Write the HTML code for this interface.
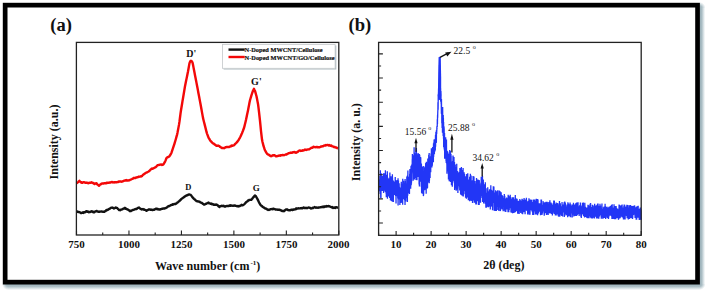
<!DOCTYPE html>
<html><head><meta charset="utf-8"><style>
html,body{margin:0;padding:0;background:#fff;}
body{width:709px;height:294px;overflow:hidden;position:relative;font-family:"Liberation Serif",serif;}
svg{position:absolute;left:0;top:0;}
</style></head><body>
<svg width="709" height="294" viewBox="0 0 709 294">
<defs>
</defs>
<rect x="0" y="0" width="709" height="294" fill="#fff"/>
<!-- shadow -->
<linearGradient id="gb" x1="0" y1="0" x2="0" y2="1"><stop offset="0" stop-color="#98afb7"/><stop offset="0.4" stop-color="#aabdc4"/><stop offset="0.75" stop-color="#dde6e9"/><stop offset="1" stop-color="#fff"/></linearGradient>
<linearGradient id="gr" x1="0" y1="0" x2="1" y2="0"><stop offset="0" stop-color="#98afb7"/><stop offset="0.4" stop-color="#aabdc4"/><stop offset="0.75" stop-color="#dde6e9"/><stop offset="1" stop-color="#fff"/></linearGradient>
<rect x="8" y="284" width="692" height="6.2" fill="url(#gb)"/>
<rect x="699.5" y="8" width="5.6" height="276.4" fill="url(#gr)"/>
<radialGradient id="gtr" cx="699.5" cy="8" r="6" gradientUnits="userSpaceOnUse"><stop offset="0" stop-color="#98afb7"/><stop offset="0.4" stop-color="#aabdc4"/><stop offset="0.75" stop-color="#dde6e9"/><stop offset="1" stop-color="#fff"/></radialGradient>
<radialGradient id="gbl" cx="8" cy="284" r="6" gradientUnits="userSpaceOnUse"><stop offset="0" stop-color="#98afb7"/><stop offset="0.4" stop-color="#aabdc4"/><stop offset="0.75" stop-color="#dde6e9"/><stop offset="1" stop-color="#fff"/></radialGradient>
<path d="M699.5,2 h6 v6 h-6 z" fill="url(#gtr)"/>
<path d="M2,284 h6 v6.2 h-6 z" fill="url(#gbl)"/>
<radialGradient id="gc" cx="699.5" cy="284" r="6" gradientUnits="userSpaceOnUse"><stop offset="0" stop-color="#98afb7"/><stop offset="0.4" stop-color="#aabdc4"/><stop offset="0.75" stop-color="#dde6e9"/><stop offset="1" stop-color="#fff"/></radialGradient>
<path d="M699.5,284 h6 v6.2 h-6 z" fill="url(#gc)"/>
<rect x="5.15" y="5.15" width="692.4" height="277" fill="none" stroke="#000" stroke-width="4.7"/>

<!-- panel a -->
<text x="50.3" y="31.1" font-family="Liberation Serif" font-weight="bold" font-size="18.6" fill="#111">(a)</text>
<path d="M76.50,183.35 77.00,182.98 77.50,182.42 78.00,182.37 78.50,181.67 79.00,181.17 79.50,180.87 80.00,181.57 80.50,181.89 81.00,182.48 81.50,182.32 82.00,182.90 82.50,182.80 83.00,182.26 83.50,182.24 84.00,182.19 84.50,182.40 85.00,182.56 85.50,182.87 86.00,182.50 86.50,182.75 87.00,182.73 87.50,183.10 88.00,183.00 88.50,183.19 89.00,182.84 89.50,182.86 90.00,182.61 90.50,182.89 91.00,182.60 91.50,182.30 92.00,182.52 92.50,182.94 93.00,182.97 93.50,183.18 94.00,183.68 94.50,184.03 95.00,183.53 95.50,183.47 96.00,183.33 96.50,183.17 97.00,184.04 97.50,184.53 98.00,184.81 98.50,185.30 99.00,185.69 99.50,185.31 100.00,184.61 100.50,184.42 101.00,184.14 101.50,183.58 102.00,183.53 102.50,183.36 103.00,183.35 103.50,183.47 104.00,183.13 104.50,183.15 105.00,183.30 105.50,183.23 106.00,183.40 106.50,182.67 107.00,183.11 107.50,182.77 108.00,182.78 108.50,182.81 109.00,182.75 109.50,182.65 110.00,182.39 110.50,182.55 111.00,182.11 111.50,182.03 112.00,182.21 112.50,181.98 113.00,182.48 113.50,182.29 114.00,182.51 114.50,182.15 115.00,182.12 115.50,182.25 116.00,182.39 116.50,182.19 117.00,182.20 117.50,181.98 118.00,182.10 118.50,181.56 119.00,181.69 119.50,181.44 120.00,181.43 120.50,181.51 121.00,181.46 121.50,181.72 122.00,181.67 122.50,181.33 123.00,181.20 123.50,181.17 124.00,180.74 124.50,180.67 125.00,180.53 125.50,180.25 126.00,180.58 126.50,180.10 127.00,180.56 127.50,180.44 128.00,180.61 128.50,180.43 129.00,180.31 129.50,180.26 130.00,179.89 130.50,179.72 131.00,179.53 131.50,179.27 132.00,179.03 132.50,178.70 133.00,178.57 133.50,178.05 134.00,178.11 134.50,177.84 135.00,178.08 135.50,177.99 136.00,177.43 136.50,177.55 137.00,177.37 137.50,177.10 138.00,177.16 138.50,176.89 139.00,176.57 139.50,176.68 140.00,176.60 140.50,176.54 141.00,176.27 141.50,176.42 142.00,176.02 142.50,175.33 143.00,174.92 143.50,174.52 144.00,174.01 144.50,173.95 145.00,173.47 145.50,173.02 146.00,172.73 146.50,172.49 147.00,172.51 147.50,172.01 148.00,171.80 148.50,171.54 149.00,171.17 149.50,170.89 150.00,170.12 150.50,169.75 151.00,169.20 151.50,168.91 152.00,168.55 152.50,168.84 153.00,168.46 153.50,168.39 154.00,168.02 154.50,167.74 155.00,167.56 155.50,167.28 156.00,166.81 156.50,166.37 157.00,165.79 157.50,165.23 158.00,165.15 158.50,165.07 159.00,164.83 159.50,164.82 160.00,164.79 160.50,164.54 161.00,164.40 161.50,164.60 162.00,164.93 162.50,164.67 163.00,164.73 163.50,164.13 164.00,163.51 164.50,162.44 165.00,161.74 165.50,160.63 166.00,159.30 166.50,158.06 167.00,157.56 167.50,157.27 168.00,157.15 168.50,156.80 169.00,156.67 169.50,156.15 170.00,155.18 170.50,154.60 171.00,153.71 171.50,152.72 172.00,151.18 172.50,149.57 173.00,148.14 173.50,146.69 174.00,145.17 174.50,143.53 175.00,141.95 175.50,140.27 176.00,138.45 176.50,136.67 177.00,134.87 177.50,132.65 178.00,130.01 178.50,127.36 179.00,124.65 179.50,121.43 180.00,117.49 180.50,113.57 181.00,110.20 181.50,107.18 182.00,104.18 182.50,101.15 183.00,98.18 183.50,95.20 184.00,92.23 184.50,89.27 185.00,86.31 185.50,83.79 186.00,81.32 186.50,78.87 187.00,76.45 187.50,73.96 188.00,71.57 188.50,68.71 189.00,65.86 189.50,63.11 190.00,61.88 190.50,60.99 191.00,60.80 191.50,61.00 192.00,61.61 192.50,62.50 193.00,64.68 193.50,67.36 194.00,69.95 194.50,72.55 195.00,75.18 195.50,77.69 196.00,80.29 196.50,82.89 197.00,85.45 197.50,88.04 198.00,90.72 198.50,93.42 199.00,96.06 199.50,98.74 200.00,101.39 200.50,104.08 201.00,106.78 201.50,109.54 202.00,112.36 202.50,115.11 203.00,117.90 203.50,120.00 204.00,121.98 204.50,123.91 205.00,125.91 205.50,127.83 206.00,129.86 206.50,131.93 207.00,133.57 207.50,134.90 208.00,136.20 208.50,137.62 209.00,138.45 209.50,139.17 210.00,140.09 210.50,140.87 211.00,141.46 211.50,141.83 212.00,142.52 212.50,142.90 213.00,143.33 213.50,143.54 214.00,143.84 214.50,144.34 215.00,144.60 215.50,145.12 216.00,145.45 216.50,145.88 217.00,145.84 217.50,145.75 218.00,145.54 218.50,145.83 219.00,145.91 219.50,146.30 220.00,146.77 220.50,146.96 221.00,147.39 221.50,147.71 222.00,148.17 222.50,148.07 223.00,148.06 223.50,148.03 224.00,148.18 224.50,148.15 225.00,147.69 225.50,147.19 226.00,147.27 226.50,146.97 227.00,147.04 227.50,147.05 228.00,147.11 228.50,147.02 229.00,147.05 229.50,146.59 230.00,146.69 230.50,146.27 231.00,146.29 231.50,145.49 232.00,145.75 232.50,145.69 233.00,145.43 233.50,145.44 234.00,145.34 234.50,144.75 235.00,144.10 235.50,143.60 236.00,143.18 236.50,142.73 237.00,142.18 237.50,141.51 238.00,140.83 238.50,140.20 239.00,139.23 239.50,138.33 240.00,137.51 240.50,136.55 241.00,135.46 241.50,134.37 242.00,133.23 242.50,131.93 243.00,130.68 243.50,129.24 244.00,127.99 244.50,126.08 245.00,124.00 245.50,121.97 246.00,119.86 246.50,117.44 247.00,115.11 247.50,112.79 248.00,110.39 248.50,107.78 249.00,105.20 249.50,102.54 250.00,100.27 250.50,98.51 251.00,96.82 251.50,95.07 252.00,93.67 252.50,92.19 253.00,90.76 253.50,90.02 254.00,88.83 254.50,90.07 255.00,90.87 255.50,92.63 256.00,94.47 256.50,96.28 257.00,98.74 257.50,101.38 258.00,103.93 258.50,107.58 259.00,111.88 259.50,116.28 260.00,120.79 260.50,125.89 261.00,131.01 261.50,135.27 262.00,139.55 262.50,141.99 263.00,143.92 263.50,145.95 264.00,147.46 264.50,148.95 265.00,150.23 265.50,151.23 266.00,152.08 266.50,152.89 267.00,153.74 267.50,154.09 268.00,154.35 268.50,154.71 269.00,154.92 269.50,155.38 270.00,155.67 270.50,155.92 271.00,156.21 271.50,156.16 272.00,155.85 272.50,155.30 273.00,155.46 273.50,155.12 274.00,155.18 274.50,155.21 275.00,155.58 275.50,155.85 276.00,156.38 276.50,156.41 277.00,156.17 277.50,156.11 278.00,155.82 278.50,155.76 279.00,155.57 279.50,155.55 280.00,155.78 280.50,155.30 281.00,155.32 281.50,155.21 282.00,155.34 282.50,154.99 283.00,155.05 283.50,155.15 284.00,155.23 284.50,154.97 285.00,154.73 285.50,154.46 286.00,154.49 286.50,154.44 287.00,154.06 287.50,153.83 288.00,153.66 288.50,153.24 289.00,153.13 289.50,153.01 290.00,152.96 290.50,152.78 291.00,152.47 291.50,152.74 292.00,152.73 292.50,152.32 293.00,152.33 293.50,152.21 294.00,152.19 294.50,151.94 295.00,152.55 295.50,152.33 296.00,152.72 296.50,152.64 297.00,152.19 297.50,151.86 298.00,151.66 298.50,151.00 299.00,150.70 299.50,150.67 300.00,150.46 300.50,150.94 301.00,150.78 301.50,150.64 302.00,150.72 302.50,150.30 303.00,150.33 303.50,150.50 304.00,150.28 304.50,149.72 305.00,149.47 305.50,149.75 306.00,149.99 306.50,149.68 307.00,149.62 307.50,149.65 308.00,149.33 308.50,149.40 309.00,149.39 309.50,149.05 310.00,148.74 310.50,148.30 311.00,148.17 311.50,147.74 312.00,147.84 312.50,147.86 313.00,147.19 313.50,146.80 314.00,146.90 314.50,147.06 315.00,147.20 315.50,147.24 316.00,146.99 316.50,147.02 317.00,147.36 317.50,147.00 318.00,147.38 318.50,147.19 319.00,147.37 319.50,147.22 320.00,147.09 320.50,146.95 321.00,146.52 321.50,146.59 322.00,146.39 322.50,146.29 323.00,146.29 323.50,145.89 324.00,145.67 324.50,145.52 325.00,145.44 325.50,145.46 326.00,145.06 326.50,145.23 327.00,145.04 327.50,145.07 328.00,144.98 328.50,145.39 329.00,145.59 329.50,145.13 330.00,145.66 330.50,145.74 331.00,145.49 331.50,145.68 332.00,146.23 332.50,146.37 333.00,146.40 333.50,146.81 334.00,147.08 334.50,147.18 335.00,146.99 335.50,147.48 336.00,147.39 336.50,147.58 337.00,147.83 337.50,148.25 338.00,148.39" fill="none" stroke="#f30808" stroke-width="2.4" stroke-linejoin="round"/>
<path d="M76.50,211.48 77.00,211.76 77.50,211.41 78.00,212.05 78.50,211.85 79.00,211.93 79.50,212.25 80.00,212.35 80.50,212.53 81.00,213.07 81.50,213.07 82.00,212.73 82.50,212.89 83.00,212.31 83.50,212.89 84.00,212.38 84.50,212.14 85.00,212.31 85.50,212.00 86.00,211.28 86.50,211.10 87.00,211.40 87.50,211.73 88.00,211.56 88.50,211.82 89.00,212.25 89.50,211.98 90.00,212.00 90.50,211.89 91.00,211.45 91.50,211.43 92.00,211.15 92.50,211.75 93.00,212.18 93.50,211.76 94.00,212.35 94.50,212.08 95.00,211.64 95.50,211.43 96.00,211.29 96.50,210.93 97.00,211.17 97.50,211.35 98.00,211.61 98.50,211.78 99.00,211.65 99.50,211.87 100.00,211.52 100.50,211.57 101.00,211.61 101.50,211.48 102.00,211.55 102.50,211.71 103.00,211.64 103.50,211.71 104.00,211.88 104.50,211.76 105.00,211.21 105.50,211.12 106.00,210.59 106.50,209.87 107.00,209.97 107.50,210.01 108.00,209.59 108.50,209.32 109.00,209.04 109.50,208.94 110.00,208.52 110.50,208.14 111.00,207.78 111.50,207.59 112.00,207.67 112.50,207.54 113.00,207.98 113.50,208.17 114.00,208.49 114.50,208.24 115.00,207.99 115.50,207.44 116.00,207.90 116.50,207.68 117.00,207.99 117.50,208.46 118.00,209.01 118.50,209.30 119.00,209.96 119.50,210.07 120.00,210.22 120.50,209.81 121.00,209.58 121.50,209.58 122.00,209.43 122.50,209.12 123.00,208.85 123.50,208.54 124.00,208.59 124.50,208.60 125.00,207.87 125.50,208.71 126.00,208.56 126.50,209.04 127.00,209.37 127.50,209.39 128.00,209.61 128.50,210.06 129.00,210.38 129.50,210.53 130.00,211.12 130.50,210.69 131.00,210.92 131.50,210.59 132.00,210.37 132.50,210.19 133.00,209.92 133.50,209.89 134.00,209.71 134.50,209.43 135.00,209.26 135.50,209.05 136.00,209.02 136.50,209.03 137.00,208.55 137.50,208.12 138.00,207.91 138.50,207.89 139.00,207.53 139.50,207.89 140.00,208.52 140.50,208.80 141.00,208.93 141.50,209.51 142.00,209.31 142.50,209.34 143.00,209.05 143.50,209.49 144.00,209.32 144.50,209.75 145.00,209.93 145.50,210.07 146.00,210.33 146.50,210.75 147.00,210.29 147.50,210.06 148.00,209.84 148.50,209.63 149.00,209.36 149.50,209.65 150.00,209.42 150.50,209.78 151.00,209.56 151.50,209.90 152.00,209.81 152.50,210.08 153.00,209.88 153.50,209.68 154.00,209.85 154.50,209.57 155.00,209.20 155.50,208.96 156.00,208.61 156.50,209.06 157.00,208.81 157.50,209.19 158.00,209.02 158.50,209.27 159.00,209.67 159.50,209.54 160.00,209.58 160.50,209.10 161.00,209.13 161.50,209.06 162.00,208.64 162.50,208.84 163.00,208.50 163.50,208.63 164.00,208.56 164.50,208.63 165.00,208.12 165.50,208.11 166.00,208.05 166.50,207.51 167.00,207.30 167.50,206.83 168.00,206.49 168.50,206.30 169.00,205.94 169.50,205.99 170.00,205.63 170.50,205.44 171.00,205.07 171.50,204.87 172.00,204.79 172.50,204.32 173.00,204.70 173.50,204.25 174.00,204.05 174.50,204.01 175.00,204.08 175.50,204.01 176.00,203.65 176.50,203.37 177.00,202.94 177.50,202.46 178.00,202.19 178.50,201.79 179.00,201.25 179.50,201.02 180.00,200.28 180.50,199.98 181.00,199.37 181.50,198.91 182.00,198.53 182.50,198.29 183.00,197.72 183.50,197.45 184.00,197.24 184.50,196.63 185.00,196.27 185.50,196.09 186.00,195.69 186.50,195.58 187.00,195.23 187.50,195.19 188.00,194.90 188.50,194.57 189.00,194.64 189.50,194.46 190.00,194.70 190.50,194.84 191.00,195.17 191.50,195.88 192.00,196.55 192.50,197.26 193.00,197.73 193.50,198.43 194.00,198.89 194.50,199.21 195.00,199.68 195.50,200.25 196.00,200.55 196.50,201.01 197.00,201.07 197.50,201.40 198.00,201.44 198.50,201.36 199.00,201.59 199.50,201.66 200.00,202.19 200.50,202.41 201.00,202.58 201.50,202.82 202.00,202.97 202.50,203.58 203.00,203.78 203.50,204.06 204.00,204.50 204.50,204.48 205.00,204.33 205.50,204.01 206.00,203.59 206.50,203.73 207.00,203.22 207.50,202.98 208.00,203.05 208.50,202.59 209.00,203.25 209.50,203.39 210.00,203.37 210.50,203.74 211.00,203.47 211.50,203.93 212.00,204.24 212.50,203.91 213.00,204.22 213.50,204.62 214.00,204.85 214.50,204.72 215.00,204.83 215.50,204.78 216.00,204.51 216.50,204.65 217.00,204.86 217.50,205.13 218.00,205.46 218.50,206.34 219.00,206.64 219.50,206.99 220.00,206.12 220.50,206.16 221.00,206.11 221.50,205.83 222.00,206.04 222.50,206.05 223.00,205.98 223.50,205.72 224.00,206.08 224.50,206.53 225.00,206.35 225.50,206.44 226.00,206.10 226.50,206.15 227.00,205.93 227.50,206.04 228.00,205.88 228.50,205.84 229.00,205.96 229.50,205.48 230.00,205.70 230.50,205.30 231.00,205.81 231.50,205.52 232.00,205.57 232.50,205.62 233.00,205.88 233.50,205.62 234.00,205.55 234.50,205.52 235.00,205.84 235.50,205.74 236.00,205.87 236.50,206.03 237.00,206.29 237.50,206.07 238.00,206.30 238.50,206.47 239.00,205.87 239.50,206.18 240.00,206.12 240.50,205.43 241.00,205.45 241.50,204.89 242.00,205.42 242.50,205.35 243.00,205.15 243.50,204.76 244.00,204.49 244.50,204.01 245.00,203.47 245.50,202.96 246.00,202.49 246.50,201.88 247.00,201.54 247.50,201.17 248.00,200.52 248.50,200.47 249.00,200.04 249.50,199.93 250.00,199.83 250.50,199.82 251.00,199.76 251.50,199.71 252.00,198.89 252.50,198.47 253.00,197.70 253.50,197.22 254.00,196.64 254.50,195.90 255.00,195.48 255.50,195.87 256.00,196.50 256.50,197.35 257.00,198.23 257.50,199.18 258.00,200.16 258.50,201.19 259.00,202.31 259.50,203.20 260.00,204.03 260.50,205.02 261.00,205.53 261.50,205.72 262.00,206.00 262.50,206.70 263.00,207.07 263.50,207.14 264.00,207.68 264.50,207.97 265.00,208.34 265.50,208.60 266.00,208.66 266.50,208.93 267.00,209.35 267.50,209.49 268.00,209.97 268.50,209.80 269.00,209.98 269.50,209.75 270.00,209.33 270.50,209.19 271.00,209.23 271.50,209.06 272.00,208.95 272.50,209.20 273.00,208.88 273.50,208.67 274.00,208.86 274.50,209.02 275.00,209.12 275.50,209.47 276.00,209.43 276.50,209.64 277.00,209.64 277.50,209.57 278.00,209.90 278.50,209.73 279.00,209.92 279.50,209.76 280.00,210.07 280.50,210.07 281.00,210.29 281.50,210.67 282.00,210.95 282.50,210.86 283.00,210.83 283.50,211.18 284.00,211.23 284.50,210.64 285.00,210.34 285.50,209.89 286.00,209.44 286.50,209.45 287.00,209.35 287.50,209.62 288.00,210.12 288.50,210.11 289.00,210.29 289.50,210.19 290.00,210.28 290.50,210.10 291.00,209.93 291.50,209.62 292.00,209.58 292.50,209.99 293.00,209.56 293.50,209.75 294.00,209.53 294.50,209.48 295.00,209.31 295.50,209.34 296.00,208.42 296.50,208.94 297.00,208.48 297.50,208.61 298.00,208.63 298.50,208.29 299.00,208.33 299.50,208.43 300.00,208.32 300.50,208.22 301.00,208.37 301.50,208.36 302.00,207.97 302.50,208.34 303.00,208.03 303.50,207.46 304.00,207.62 304.50,208.10 305.00,208.16 305.50,208.00 306.00,207.73 306.50,208.08 307.00,208.20 307.50,207.95 308.00,207.69 308.50,207.50 309.00,207.66 309.50,207.64 310.00,207.91 310.50,208.12 311.00,208.50 311.50,208.40 312.00,208.25 312.50,207.71 313.00,208.08 313.50,207.87 314.00,207.53 314.50,207.07 315.00,207.34 315.50,207.42 316.00,207.75 316.50,207.43 317.00,207.53 317.50,207.61 318.00,207.77 318.50,207.38 319.00,207.50 319.50,207.33 320.00,207.39 320.50,207.26 321.00,207.24 321.50,206.92 322.00,207.02 322.50,206.74 323.00,207.19 323.50,206.60 324.00,207.07 324.50,206.85 325.00,206.27 325.50,206.63 326.00,206.52 326.50,206.07 327.00,206.43 327.50,206.25 328.00,206.29 328.50,206.02 329.00,206.13 329.50,206.45 330.00,206.59 330.50,206.76 331.00,207.06 331.50,207.17 332.00,207.47 332.50,207.13 333.00,207.97 333.50,207.70 334.00,207.73 334.50,207.73 335.00,207.25 335.50,207.88 336.00,207.13 336.50,207.38 337.00,207.39 337.50,207.61 338.00,207.38" fill="none" stroke="#111" stroke-width="2.4" stroke-linejoin="round"/>
<rect x="76.4" y="42.4" width="262.4" height="192.6" fill="none" stroke="#222" stroke-width="1.3"/>
<path d="M76.50,235 V230.50 M102.73,235 V232.50 M128.96,235 V230.50 M155.19,235 V232.50 M181.42,235 V230.50 M207.65,235 V232.50 M233.88,235 V230.50 M260.11,235 V232.50 M286.34,235 V230.50 M312.57,235 V232.50 M338.80,235 V230.50" stroke="#222" stroke-width="1.1"/>
<path d="M223.6,69 H335.7 V45.6" fill="none" stroke="#a9b7be" stroke-width="1.2"/>
<rect x="222.5" y="44.5" width="112.6" height="23.8" fill="#fff" stroke="#c4c8ca" stroke-width="0.8"/>
<path d="M228.5,49.6 H244.7" stroke="#111" stroke-width="2.4"/>
<path d="M228.5,57 H244.7" stroke="#f30808" stroke-width="2.4"/>
<text x="244.6" y="52.1" font-family="Liberation Serif" font-weight="bold" font-size="6.9" fill="#111" stroke="#111" stroke-width="0.2" textLength="78" lengthAdjust="spacingAndGlyphs">N-Doped MWCNT/Cellulose</text>
<text x="244.6" y="59.9" font-family="Liberation Serif" font-weight="bold" font-size="6.9" fill="#111" stroke="#111" stroke-width="0.2" textLength="90" lengthAdjust="spacingAndGlyphs">N-Doped MWCNT/GO/Cellulose</text>
<text x="191.3" y="57" font-family="Liberation Serif" font-weight="bold" font-size="10" fill="#111" text-anchor="middle">D'</text>
<text x="256.4" y="84.5" font-family="Liberation Serif" font-weight="bold" font-size="10" fill="#111" text-anchor="middle">G'</text>
<text x="188.4" y="189.7" font-family="Liberation Serif" font-weight="bold" font-size="8.5" fill="#111" text-anchor="middle">D</text>
<text x="256.2" y="190.9" font-family="Liberation Serif" font-weight="bold" font-size="9" fill="#111" text-anchor="middle">G</text>
<g font-family="Liberation Serif" font-weight="bold" font-size="11" fill="#111" text-anchor="middle">
<text x="76.5" y="248">750</text><text x="129" y="248">1000</text><text x="181.5" y="248">1250</text>
<text x="234" y="248">1500</text><text x="286.5" y="248">1750</text><text x="338.5" y="248">2000</text>
</g>
<text x="207.6" y="269.9" font-family="Liberation Serif" font-weight="bold" font-size="12" fill="#111" text-anchor="middle">Wave number (cm<tspan dx="1" dy="-5" font-size="7">-1</tspan><tspan dy="5">)</tspan></text>
<text transform="translate(58.2,142) rotate(-90)" font-family="Liberation Serif" font-weight="bold" font-size="12" fill="#111" text-anchor="middle">Intensity (a.u.)</text>

<!-- panel b -->
<text x="348.5" y="31.1" font-family="Liberation Serif" font-weight="bold" font-size="18.6" fill="#111">(b)</text>
<path d="M378.60,187.4 378.67,190.7 378.74,187.3 378.81,175.9 378.89,191.3 378.96,188.1 379.03,181.2 379.10,189.0 379.17,187.5 379.24,187.0 379.31,185.1 379.39,188.8 379.46,179.8 379.53,183.8 379.60,181.6 379.67,189.1 379.74,185.2 379.81,182.9 379.89,179.4 379.96,183.1 380.03,184.9 380.10,183.0 380.17,193.9 380.24,191.9 380.31,170.2 380.39,171.7 380.46,183.6 380.53,181.9 380.60,186.3 380.67,186.4 380.74,198.1 380.81,177.1 380.89,182.2 380.96,198.1 381.03,189.3 381.10,189.4 381.17,181.2 381.24,173.3 381.31,186.0 381.39,185.5 381.46,176.2 381.53,180.0 381.60,184.3 381.67,178.2 381.74,184.1 381.81,185.4 381.89,185.0 381.96,181.2 382.03,188.9 382.10,190.9 382.17,187.0 382.24,179.0 382.31,189.8 382.39,181.2 382.46,190.8 382.53,177.2 382.60,191.0 382.67,184.5 382.74,176.0 382.81,182.5 382.89,185.0 382.96,186.6 383.03,177.8 383.10,177.0 383.17,186.0 383.24,181.4 383.31,186.3 383.39,189.9 383.46,173.2 383.53,186.4 383.60,193.1 383.67,182.5 383.74,179.0 383.81,189.8 383.89,186.3 383.96,190.8 384.03,182.2 384.10,174.3 384.17,183.8 384.24,181.5 384.31,189.9 384.39,185.9 384.46,173.2 384.53,176.3 384.60,190.7 384.67,189.2 384.74,180.1 384.81,184.5 384.89,187.6 384.96,187.7 385.03,190.6 385.10,186.3 385.17,183.9 385.24,182.8 385.31,192.0 385.39,170.2 385.46,183.8 385.53,185.0 385.60,174.9 385.67,187.1 385.74,180.4 385.81,190.9 385.89,184.1 385.96,189.6 386.03,193.4 386.10,187.7 386.17,179.0 386.24,174.7 386.31,197.3 386.39,184.4 386.46,180.5 386.53,186.3 386.60,184.0 386.67,191.2 386.74,185.6 386.81,185.5 386.89,180.5 386.96,188.7 387.03,178.4 387.10,190.1 387.17,196.1 387.24,175.1 387.31,171.2 387.39,189.9 387.46,198.8 387.53,178.9 387.60,177.2 387.67,189.9 387.74,180.1 387.81,182.4 387.89,183.5 387.96,189.6 388.03,183.2 388.10,188.0 388.17,184.9 388.24,180.3 388.31,184.0 388.39,179.6 388.46,186.3 388.53,178.5 388.60,178.8 388.67,196.4 388.74,186.0 388.81,186.0 388.89,190.0 388.96,183.6 389.03,184.9 389.10,189.5 389.17,188.5 389.24,178.7 389.31,192.4 389.39,182.6 389.46,179.5 389.53,180.6 389.60,184.1 389.67,198.0 389.74,178.8 389.81,188.0 389.89,172.5 389.96,187.0 390.03,193.2 390.10,185.4 390.17,182.8 390.24,188.8 390.31,192.0 390.39,191.8 390.46,200.4 390.53,188.8 390.60,183.3 390.67,186.6 390.74,187.0 390.81,188.3 390.89,187.4 390.96,188.9 391.03,176.3 391.10,193.4 391.17,183.9 391.24,179.8 391.31,192.3 391.39,197.0 391.46,191.4 391.53,189.2 391.60,181.7 391.67,201.2 391.74,194.2 391.81,180.4 391.89,183.0 391.96,188.9 392.03,177.8 392.10,189.6 392.17,185.4 392.24,196.9 392.31,195.2 392.39,174.3 392.46,189.0 392.53,177.7 392.60,196.4 392.67,190.0 392.74,192.6 392.81,181.7 392.89,201.5 392.96,202.0 393.03,181.8 393.10,191.7 393.17,184.6 393.24,189.1 393.31,180.6 393.39,202.1 393.46,182.8 393.53,187.4 393.60,192.9 393.67,185.1 393.74,187.9 393.81,185.8 393.89,188.8 393.96,181.7 394.03,186.8 394.10,188.4 394.17,187.6 394.24,190.3 394.31,188.0 394.39,195.1 394.46,187.9 394.53,189.2 394.60,185.6 394.67,186.6 394.74,181.6 394.81,193.8 394.89,182.6 394.96,185.3 395.03,192.9 395.10,193.2 395.17,187.8 395.24,176.9 395.31,193.5 395.39,192.5 395.46,181.1 395.53,196.0 395.60,186.1 395.67,183.2 395.74,191.6 395.81,189.8 395.89,192.4 395.96,180.2 396.03,203.5 396.10,187.1 396.17,180.8 396.24,195.5 396.31,188.9 396.39,193.6 396.46,189.1 396.53,191.1 396.60,193.2 396.67,186.5 396.74,196.2 396.81,188.5 396.89,185.8 396.96,192.3 397.03,194.9 397.10,190.3 397.17,186.1 397.24,196.2 397.31,180.1 397.39,185.1 397.46,192.4 397.53,182.9 397.60,192.4 397.67,191.9 397.74,198.4 397.81,186.2 397.89,188.2 397.96,194.7 398.03,178.3 398.10,205.4 398.17,187.8 398.24,187.6 398.31,198.4 398.39,192.3 398.46,180.5 398.53,196.8 398.60,198.4 398.67,189.6 398.74,190.7 398.81,195.9 398.89,186.5 398.96,195.7 399.03,194.1 399.10,188.2 399.17,183.3 399.24,191.2 399.31,186.8 399.39,199.5 399.46,193.8 399.53,198.1 399.60,193.7 399.67,194.6 399.74,187.6 399.81,197.4 399.89,204.9 399.96,190.8 400.03,188.9 400.10,191.9 400.17,189.7 400.24,188.2 400.31,193.9 400.39,191.0 400.46,202.8 400.53,193.0 400.60,195.2 400.67,199.5 400.74,191.0 400.81,202.9 400.89,188.7 400.96,187.6 401.03,190.6 401.10,192.3 401.17,183.5 401.24,192.9 401.31,181.7 401.39,202.8 401.46,192.6 401.53,188.8 401.60,186.9 401.67,190.6 401.74,191.7 401.81,186.0 401.89,186.9 401.96,192.0 402.03,189.7 402.10,199.9 402.17,201.3 402.24,193.5 402.31,196.7 402.39,184.0 402.46,197.9 402.53,193.2 402.60,196.8 402.67,204.7 402.74,178.7 402.81,195.3 402.89,185.7 402.96,197.7 403.03,184.2 403.10,189.9 403.17,194.7 403.24,197.6 403.31,193.7 403.39,187.4 403.46,189.1 403.53,199.2 403.60,192.8 403.67,180.7 403.74,198.7 403.81,195.6 403.89,198.8 403.96,190.0 404.03,198.3 404.10,184.6 404.17,196.3 404.24,188.6 404.31,196.9 404.39,199.2 404.46,186.6 404.53,191.4 404.60,192.0 404.67,200.2 404.74,196.7 404.81,182.6 404.89,194.7 404.96,196.7 405.03,205.0 405.10,178.9 405.17,187.1 405.24,200.7 405.31,181.0 405.39,182.0 405.46,194.5 405.53,198.1 405.60,185.7 405.67,194.5 405.74,191.3 405.81,201.5 405.89,190.2 405.96,197.5 406.03,183.4 406.10,188.6 406.17,189.2 406.24,198.3 406.31,194.1 406.39,184.1 406.46,194.7 406.53,195.3 406.60,188.6 406.67,187.5 406.74,187.8 406.81,176.6 406.89,190.5 406.96,190.8 407.03,182.4 407.10,194.3 407.17,178.2 407.24,184.1 407.31,184.5 407.39,202.1 407.46,175.6 407.53,191.7 407.60,194.3 407.67,189.8 407.74,195.7 407.81,179.0 407.89,170.4 407.96,191.9 408.03,176.8 408.10,183.2 408.17,176.5 408.24,193.3 408.31,191.6 408.39,179.4 408.46,191.5 408.53,185.3 408.60,183.1 408.67,184.4 408.74,182.2 408.81,188.3 408.89,185.7 408.96,180.4 409.03,190.6 409.10,177.7 409.17,184.3 409.24,184.9 409.31,192.7 409.39,177.0 409.46,194.0 409.53,181.5 409.60,178.2 409.67,174.1 409.74,183.5 409.81,178.9 409.89,169.5 409.96,169.0 410.03,173.0 410.10,171.7 410.17,185.1 410.24,186.9 410.31,182.6 410.39,178.2 410.46,171.6 410.53,175.0 410.60,181.1 410.67,188.7 410.74,180.6 410.81,170.8 410.89,172.9 410.96,168.4 411.03,165.7 411.10,170.0 411.17,172.6 411.24,185.2 411.31,170.7 411.39,180.7 411.46,183.5 411.53,169.7 411.60,181.5 411.67,174.0 411.74,164.6 411.81,169.6 411.89,167.3 411.96,164.9 412.03,164.9 412.10,167.6 412.17,169.8 412.24,159.2 412.31,166.1 412.39,153.9 412.46,168.1 412.53,171.0 412.60,167.2 412.67,168.1 412.74,170.5 412.81,160.3 412.89,163.7 412.96,169.7 413.03,173.6 413.10,168.6 413.17,180.7 413.24,164.5 413.31,173.3 413.39,175.4 413.46,164.0 413.53,158.3 413.60,155.3 413.67,166.1 413.74,173.8 413.81,166.9 413.89,166.0 413.96,161.5 414.03,169.0 414.10,147.3 414.17,166.2 414.24,164.5 414.31,153.0 414.39,179.6 414.46,152.7 414.53,155.2 414.60,154.2 414.67,173.1 414.74,156.8 414.81,169.6 414.89,168.9 414.96,166.3 415.03,153.4 415.10,159.2 415.17,177.9 415.24,153.6 415.31,157.4 415.39,162.9 415.46,170.9 415.53,166.4 415.60,170.4 415.67,155.6 415.74,172.1 415.81,169.1 415.89,151.3 415.96,177.1 416.03,180.1 416.10,158.1 416.17,164.9 416.24,176.0 416.31,152.3 416.39,148.1 416.46,153.8 416.53,159.9 416.60,159.8 416.67,169.7 416.74,166.9 416.81,154.3 416.89,169.4 416.96,180.3 417.03,174.7 417.10,173.0 417.17,164.9 417.24,173.0 417.31,156.8 417.39,171.1 417.46,164.1 417.53,174.3 417.60,168.8 417.67,155.8 417.74,166.0 417.81,175.1 417.89,155.5 417.96,160.3 418.03,158.7 418.10,152.9 418.17,173.7 418.24,177.0 418.31,173.0 418.39,168.6 418.46,166.4 418.53,169.1 418.60,161.2 418.67,175.2 418.74,176.7 418.81,176.1 418.89,164.0 418.96,169.5 419.03,167.7 419.10,184.5 419.17,171.2 419.24,154.0 419.31,173.6 419.39,186.4 419.46,176.6 419.53,178.5 419.60,171.6 419.67,154.9 419.74,156.5 419.81,161.6 419.89,171.4 419.96,175.4 420.03,178.9 420.10,170.4 420.17,181.7 420.24,171.5 420.31,168.2 420.39,181.6 420.46,166.9 420.53,157.1 420.60,166.0 420.67,175.9 420.74,157.6 420.81,172.4 420.89,172.7 420.96,163.7 421.03,163.4 421.10,172.1 421.17,171.5 421.24,186.8 421.31,179.5 421.39,163.4 421.46,169.6 421.53,182.7 421.60,192.8 421.67,180.4 421.74,179.9 421.81,192.9 421.89,177.4 421.96,175.2 422.03,166.3 422.10,173.8 422.17,193.8 422.24,166.7 422.31,178.6 422.39,167.1 422.46,179.9 422.53,186.2 422.60,177.1 422.67,185.2 422.74,185.3 422.81,183.2 422.89,193.7 422.96,186.2 423.03,177.5 423.10,174.6 423.17,173.5 423.24,184.3 423.31,178.0 423.39,196.1 423.46,195.8 423.53,179.3 423.60,178.4 423.67,194.6 423.74,166.0 423.81,177.5 423.89,188.7 423.96,173.9 424.03,177.4 424.10,178.4 424.17,186.5 424.24,182.3 424.31,184.5 424.39,186.1 424.46,181.6 424.53,190.2 424.60,175.5 424.67,169.9 424.74,167.2 424.81,168.5 424.89,177.1 424.96,189.7 425.03,182.8 425.10,176.5 425.17,172.6 425.24,176.8 425.31,177.6 425.39,176.2 425.46,169.1 425.53,176.6 425.60,188.4 425.67,163.4 425.74,178.1 425.81,163.1 425.89,181.2 425.96,173.6 426.03,162.8 426.10,180.1 426.17,193.7 426.24,179.9 426.31,188.2 426.39,178.2 426.46,161.8 426.53,182.4 426.60,175.0 426.67,166.5 426.74,184.3 426.81,180.2 426.89,173.5 426.96,184.5 427.03,170.5 427.10,182.4 427.17,169.7 427.24,181.3 427.31,168.1 427.39,188.5 427.46,178.6 427.53,187.7 427.60,169.6 427.67,172.0 427.74,182.0 427.81,158.6 427.89,166.4 427.96,182.6 428.03,177.8 428.10,181.5 428.17,171.1 428.24,177.6 428.31,167.2 428.39,161.9 428.46,159.1 428.53,167.6 428.60,167.3 428.67,166.4 428.74,154.7 428.81,155.2 428.89,166.2 428.96,172.2 429.03,165.2 429.10,162.6 429.17,153.0 429.24,183.2 429.31,160.0 429.39,180.8 429.46,179.6 429.53,169.5 429.60,162.8 429.67,167.8 429.74,157.8 429.81,168.1 429.89,165.8 429.96,169.5 430.03,172.3 430.10,177.9 430.17,161.8 430.24,172.3 430.31,158.4 430.39,157.4 430.46,159.2 430.53,156.3 430.60,170.6 430.67,169.9 430.74,172.2 430.81,162.5 430.89,164.4 430.96,158.0 431.03,153.6 431.10,165.0 431.17,163.4 431.24,153.3 431.31,165.2 431.39,148.3 431.46,159.3 431.53,155.8 431.60,156.3 431.67,152.2 431.74,166.4 431.81,163.4 431.89,167.5 431.96,159.9 432.03,149.6 432.10,155.8 432.17,150.0 432.24,160.9 432.31,165.7 432.39,159.5 432.46,153.1 432.53,154.4 432.60,157.8 432.67,147.1 432.74,156.9 432.81,156.9 432.89,152.1 432.96,152.7 433.03,155.9 433.10,149.9 433.17,149.7 433.24,158.4 433.31,154.9 433.39,162.3 433.46,147.6 433.53,143.2 433.60,156.8 433.67,156.4 433.74,147.6 433.81,143.8 433.89,150.2 433.96,142.0 434.03,148.0 434.10,139.9 434.17,147.7 434.24,139.2 434.31,146.9 434.39,154.2 434.46,145.9 434.53,150.0 434.60,143.6 434.67,142.2 434.74,139.2 434.81,149.7 434.89,144.7 434.96,151.4 435.03,139.3 435.10,142.9 435.17,143.8 435.24,148.9 435.31,150.2 435.39,139.7 435.46,137.4 435.53,134.7 435.60,146.7 435.67,140.6 435.74,138.0 435.81,140.0 435.89,131.7 435.96,132.6 436.03,142.9 436.10,140.4 436.17,138.6 436.24,133.2 436.31,138.8 436.39,142.8 436.46,130.0 436.53,134.1 436.60,131.5 436.67,133.9 436.74,131.8 436.81,130.3 436.89,126.6 436.96,129.3 437.03,126.0 437.10,127.2 437.17,125.8 437.24,127.1 437.31,120.0 437.39,119.4 437.46,123.9 437.53,116.4 437.60,114.5 437.67,117.8 437.74,113.5 437.81,111.1 437.89,110.0 437.96,102.2 438.03,107.8 438.10,109.8 438.17,105.1 438.24,94.7 438.31,100.6 438.39,94.0 438.46,95.0 438.53,94.6 438.60,87.8 438.67,95.4 438.74,87.5 438.81,86.8 438.89,82.6 438.96,81.2 439.03,76.7 439.10,64.9 439.17,65.0 439.24,57.3 439.31,57.3 439.39,59.0 439.46,59.3 439.53,60.1 439.60,57.3 439.67,58.2 439.74,57.7 439.81,61.6 439.89,66.8 439.96,65.5 440.03,76.6 440.10,74.9 440.17,77.2 440.24,84.1 440.31,88.4 440.39,91.2 440.46,88.3 440.53,98.0 440.60,93.4 440.67,101.1 440.74,101.8 440.81,90.9 440.89,93.3 440.96,94.3 441.03,101.6 441.10,101.7 441.17,103.9 441.24,99.1 441.31,107.0 441.39,113.8 441.46,98.9 441.53,106.6 441.60,110.4 441.67,109.2 441.74,109.8 441.81,123.2 441.89,121.1 441.96,119.2 442.03,109.5 442.10,128.0 442.17,118.6 442.24,113.1 442.31,115.5 442.39,115.2 442.46,132.7 442.53,121.7 442.60,121.5 442.67,106.9 442.74,128.0 442.81,115.8 442.89,116.0 442.96,129.7 443.03,119.5 443.10,133.0 443.17,136.0 443.24,114.9 443.31,128.2 443.39,118.1 443.46,130.4 443.53,138.7 443.60,122.1 443.67,147.2 443.74,131.8 443.81,125.9 443.89,134.8 443.96,142.7 444.03,126.8 444.10,138.3 444.17,128.4 444.24,149.3 444.31,141.9 444.39,138.2 444.46,150.5 444.53,132.9 444.60,140.5 444.67,158.8 444.74,143.7 444.81,156.0 444.89,147.4 444.96,140.8 445.03,144.9 445.10,148.1 445.17,144.7 445.24,141.9 445.31,142.8 445.39,137.7 445.46,151.1 445.53,153.9 445.60,157.3 445.67,137.3 445.74,158.8 445.81,152.8 445.89,141.9 445.96,154.8 446.03,161.0 446.10,159.0 446.17,160.9 446.24,163.0 446.31,162.9 446.39,155.7 446.46,139.4 446.53,150.4 446.60,159.8 446.67,153.4 446.74,163.1 446.81,164.3 446.89,158.5 446.96,173.7 447.03,150.7 447.10,166.6 447.17,155.4 447.24,153.2 447.31,164.7 447.39,155.2 447.46,167.6 447.53,151.3 447.60,161.4 447.67,154.5 447.74,159.8 447.81,159.0 447.89,153.1 447.96,168.1 448.03,152.6 448.10,155.0 448.17,170.6 448.24,171.4 448.31,169.0 448.39,166.5 448.46,179.6 448.53,154.1 448.60,158.1 448.67,156.2 448.74,171.9 448.81,167.0 448.89,173.9 448.96,173.0 449.03,163.3 449.10,158.7 449.17,157.4 449.24,181.3 449.31,173.7 449.39,170.8 449.46,163.4 449.53,164.7 449.60,163.7 449.67,164.0 449.74,149.9 449.81,166.5 449.89,164.0 449.96,169.6 450.03,169.1 450.10,174.4 450.17,167.6 450.24,174.2 450.31,151.1 450.39,159.2 450.46,182.1 450.53,158.5 450.60,166.2 450.67,174.2 450.74,161.6 450.81,174.6 450.89,157.5 450.96,153.7 451.03,158.6 451.10,156.1 451.17,169.3 451.24,167.0 451.31,172.3 451.39,161.5 451.46,185.2 451.53,169.3 451.60,169.8 451.67,174.0 451.74,168.5 451.81,165.5 451.89,171.4 451.96,178.2 452.03,176.3 452.10,178.6 452.17,166.6 452.24,165.1 452.31,186.7 452.39,169.6 452.46,175.4 452.53,177.6 452.60,183.2 452.67,161.1 452.74,168.2 452.81,168.7 452.89,169.8 452.96,155.6 453.03,171.7 453.10,155.8 453.17,175.1 453.24,177.1 453.31,177.7 453.39,163.4 453.46,180.7 453.53,166.3 453.60,163.5 453.67,165.6 453.74,166.8 453.81,175.0 453.89,180.4 453.96,157.1 454.03,169.6 454.10,181.3 454.17,175.8 454.24,178.4 454.31,162.4 454.39,182.2 454.46,162.1 454.53,176.3 454.60,185.8 454.67,190.0 454.74,179.2 454.81,182.3 454.89,170.5 454.96,171.6 455.03,184.9 455.10,175.6 455.17,174.7 455.24,164.5 455.31,177.0 455.39,181.0 455.46,169.6 455.53,172.0 455.60,188.6 455.67,177.6 455.74,174.0 455.81,167.3 455.89,171.5 455.96,174.5 456.03,187.3 456.10,171.8 456.17,190.8 456.24,169.4 456.31,174.0 456.39,183.5 456.46,175.1 456.53,170.5 456.60,176.1 456.67,180.7 456.74,163.8 456.81,175.4 456.89,176.5 456.96,174.3 457.03,183.2 457.10,173.2 457.17,174.8 457.24,178.0 457.31,183.5 457.39,176.2 457.46,189.7 457.53,171.0 457.60,188.0 457.67,171.6 457.74,177.0 457.81,181.1 457.89,193.0 457.96,185.3 458.03,175.4 458.10,188.5 458.17,177.0 458.24,172.7 458.31,182.2 458.39,179.6 458.46,186.2 458.53,174.8 458.60,182.0 458.67,184.0 458.74,181.4 458.81,179.1 458.89,174.1 458.96,186.3 459.03,180.6 459.10,183.3 459.17,177.0 459.24,179.8 459.31,172.0 459.39,180.5 459.46,185.7 459.53,180.7 459.60,186.5 459.67,182.5 459.74,190.4 459.81,178.8 459.89,168.1 459.96,183.6 460.03,179.2 460.10,173.2 460.17,185.4 460.24,182.5 460.31,183.9 460.39,178.2 460.46,182.2 460.53,182.7 460.60,193.9 460.67,175.9 460.74,180.9 460.81,183.7 460.89,168.4 460.96,169.4 461.03,195.1 461.10,168.3 461.17,185.5 461.24,175.2 461.31,175.8 461.39,167.0 461.46,175.0 461.53,187.3 461.60,171.5 461.67,186.0 461.74,184.0 461.81,195.6 461.89,178.4 461.96,191.0 462.03,188.4 462.10,180.0 462.17,170.1 462.24,193.0 462.31,172.4 462.39,178.8 462.46,188.6 462.53,190.3 462.60,176.4 462.67,182.2 462.74,180.7 462.81,191.0 462.89,196.2 462.96,169.7 463.03,189.3 463.10,167.9 463.17,183.0 463.24,175.1 463.31,196.4 463.39,184.2 463.46,177.9 463.53,179.6 463.60,179.1 463.67,184.6 463.74,182.2 463.81,188.0 463.89,194.2 463.96,188.4 464.03,174.9 464.10,172.2 464.17,178.3 464.24,191.1 464.31,181.4 464.39,179.1 464.46,184.8 464.53,174.0 464.60,176.0 464.67,187.6 464.74,182.0 464.81,181.0 464.89,186.4 464.96,180.2 465.03,179.5 465.10,181.2 465.17,188.7 465.24,184.9 465.31,176.2 465.39,182.5 465.46,189.2 465.53,197.8 465.60,176.8 465.67,187.2 465.74,183.1 465.81,190.7 465.89,188.2 465.96,195.4 466.03,188.8 466.10,181.4 466.17,181.5 466.24,188.1 466.31,188.1 466.39,198.7 466.46,197.2 466.53,177.3 466.60,188.0 466.67,176.3 466.74,174.1 466.81,191.0 466.89,189.7 466.96,178.6 467.03,197.4 467.10,179.1 467.17,177.9 467.24,190.7 467.31,187.7 467.39,185.1 467.46,185.8 467.53,187.9 467.60,185.4 467.67,185.2 467.74,173.2 467.81,177.2 467.89,190.9 467.96,181.7 468.03,190.5 468.10,195.4 468.17,184.4 468.24,188.9 468.31,200.3 468.39,191.9 468.46,200.0 468.53,197.9 468.60,192.5 468.67,186.5 468.74,181.4 468.81,179.6 468.89,190.8 468.96,190.7 469.03,186.3 469.10,193.5 469.17,183.4 469.24,195.4 469.31,188.0 469.39,187.5 469.46,187.8 469.53,187.2 469.60,201.2 469.67,176.7 469.74,189.2 469.81,196.7 469.89,193.1 469.96,186.0 470.03,200.3 470.10,180.8 470.17,179.2 470.24,192.3 470.31,178.3 470.39,173.8 470.46,194.6 470.53,193.8 470.60,193.6 470.67,185.2 470.74,189.9 470.81,182.0 470.89,200.8 470.96,194.3 471.03,194.0 471.10,175.4 471.17,194.5 471.24,199.3 471.31,197.4 471.39,194.5 471.46,189.1 471.53,186.8 471.60,193.4 471.67,191.9 471.74,191.0 471.81,187.2 471.89,201.0 471.96,181.4 472.03,189.4 472.10,185.6 472.17,196.7 472.24,199.5 472.31,198.2 472.39,194.9 472.46,180.2 472.53,202.9 472.60,193.4 472.67,189.2 472.74,190.1 472.81,187.7 472.89,193.0 472.96,192.3 473.03,187.7 473.10,175.9 473.17,190.0 473.24,193.6 473.31,194.0 473.39,189.4 473.46,193.6 473.53,197.5 473.60,187.4 473.67,200.6 473.74,177.4 473.81,182.1 473.89,184.6 473.96,176.5 474.03,184.1 474.10,199.4 474.17,199.4 474.24,191.7 474.31,202.7 474.39,192.7 474.46,187.8 474.53,192.8 474.60,190.3 474.67,196.3 474.74,181.2 474.81,198.1 474.89,188.3 474.96,197.2 475.03,181.1 475.10,188.7 475.17,192.1 475.24,197.6 475.31,183.4 475.39,202.8 475.46,194.9 475.53,188.1 475.60,199.8 475.67,192.4 475.74,199.5 475.81,204.5 475.89,196.9 475.96,188.2 476.03,188.9 476.10,195.7 476.17,193.7 476.24,186.2 476.31,187.4 476.39,196.3 476.46,204.6 476.53,177.9 476.60,196.8 476.67,190.5 476.74,197.2 476.81,197.8 476.89,192.3 476.96,185.2 477.03,182.7 477.10,179.6 477.17,200.2 477.24,190.7 477.31,188.5 477.39,190.3 477.46,183.2 477.53,194.2 477.60,200.9 477.67,199.8 477.74,181.8 477.81,201.3 477.89,187.2 477.96,179.6 478.03,184.1 478.10,185.9 478.17,192.3 478.24,185.5 478.31,182.4 478.39,190.6 478.46,205.0 478.53,187.8 478.60,195.5 478.67,193.0 478.74,205.0 478.81,180.0 478.89,199.7 478.96,184.1 479.03,188.6 479.10,191.9 479.17,205.1 479.24,187.6 479.31,180.2 479.39,201.2 479.46,187.1 479.53,191.1 479.60,192.5 479.67,193.4 479.74,191.6 479.81,194.5 479.89,195.3 479.96,198.4 480.03,189.9 480.10,187.7 480.17,185.5 480.24,196.2 480.31,191.9 480.39,195.7 480.46,195.4 480.53,202.8 480.60,193.0 480.67,196.4 480.74,183.5 480.81,184.2 480.89,189.0 480.96,183.0 481.03,195.3 481.10,182.0 481.17,191.0 481.24,176.7 481.31,183.1 481.39,187.9 481.46,188.3 481.53,178.2 481.60,190.4 481.67,195.8 481.74,193.6 481.81,185.0 481.89,185.3 481.96,181.3 482.03,192.9 482.10,198.0 482.17,185.2 482.24,177.7 482.31,190.1 482.39,193.6 482.46,175.7 482.53,190.4 482.60,202.0 482.67,195.2 482.74,193.7 482.81,193.0 482.89,197.4 482.96,184.8 483.03,185.6 483.10,193.9 483.17,187.1 483.24,193.3 483.31,179.6 483.39,197.0 483.46,197.8 483.53,192.8 483.60,193.8 483.67,203.4 483.74,186.3 483.81,187.6 483.89,186.7 483.96,191.2 484.03,187.6 484.10,194.3 484.17,190.0 484.24,184.9 484.31,184.3 484.39,202.0 484.46,193.9 484.53,192.9 484.60,194.6 484.67,194.0 484.74,199.4 484.81,198.2 484.89,190.9 484.96,189.5 485.03,187.9 485.10,186.9 485.17,203.8 485.24,189.1 485.31,182.2 485.39,189.7 485.46,190.1 485.53,197.2 485.60,189.6 485.67,198.6 485.74,197.8 485.81,203.4 485.89,207.4 485.96,207.5 486.03,204.1 486.10,188.2 486.17,193.1 486.24,197.2 486.31,207.7 486.39,200.1 486.46,203.4 486.53,194.8 486.60,199.7 486.67,200.5 486.74,193.2 486.81,201.0 486.89,202.9 486.96,195.2 487.03,202.7 487.10,206.7 487.17,196.8 487.24,196.4 487.31,194.5 487.39,192.7 487.46,197.6 487.53,194.1 487.60,194.7 487.67,191.9 487.74,187.2 487.81,191.0 487.89,199.0 487.96,189.6 488.03,193.0 488.10,207.3 488.17,204.1 488.24,192.8 488.31,200.9 488.39,193.1 488.46,207.3 488.53,193.6 488.60,197.7 488.67,205.9 488.74,192.1 488.81,205.4 488.89,192.3 488.96,198.8 489.03,195.6 489.10,196.9 489.17,198.4 489.24,197.0 489.31,191.2 489.39,202.9 489.46,202.0 489.53,205.6 489.60,206.2 489.67,189.3 489.74,205.6 489.81,205.7 489.89,194.4 489.96,204.2 490.03,206.9 490.10,194.5 490.17,189.3 490.24,195.6 490.31,209.6 490.39,199.4 490.46,190.5 490.53,196.4 490.60,191.9 490.67,195.6 490.74,198.6 490.81,185.2 490.89,200.3 490.96,206.8 491.03,197.0 491.10,195.8 491.17,204.9 491.24,190.5 491.31,190.6 491.39,189.8 491.46,197.4 491.53,200.8 491.60,197.8 491.67,201.8 491.74,203.5 491.81,201.5 491.89,193.6 491.96,196.9 492.03,206.2 492.10,192.2 492.17,197.1 492.24,196.1 492.31,197.6 492.39,192.1 492.46,190.5 492.53,210.3 492.60,204.5 492.67,194.5 492.74,198.5 492.81,203.0 492.89,196.8 492.96,202.7 493.03,195.2 493.10,196.8 493.17,198.5 493.24,196.2 493.31,186.3 493.39,199.2 493.46,200.7 493.53,202.0 493.60,193.1 493.67,201.3 493.74,200.5 493.81,188.5 493.89,186.6 493.96,202.2 494.03,193.6 494.10,205.4 494.17,210.8 494.24,195.9 494.31,195.3 494.39,199.4 494.46,203.5 494.53,192.7 494.60,207.0 494.67,205.5 494.74,203.6 494.81,196.4 494.89,205.1 494.96,204.8 495.03,192.5 495.10,211.1 495.17,198.0 495.24,202.0 495.31,196.7 495.39,202.1 495.46,206.7 495.53,195.1 495.60,190.2 495.67,197.3 495.74,192.3 495.81,195.6 495.89,199.3 495.96,199.7 496.03,207.5 496.10,194.2 496.17,202.1 496.24,197.2 496.31,208.0 496.39,211.1 496.46,201.9 496.53,209.8 496.60,197.3 496.67,191.2 496.74,193.1 496.81,191.4 496.89,195.0 496.96,199.0 497.03,206.9 497.10,204.4 497.17,203.1 497.24,198.1 497.31,196.5 497.39,200.7 497.46,201.3 497.53,202.0 497.60,202.7 497.67,200.0 497.74,190.2 497.81,194.6 497.89,196.3 497.96,209.9 498.03,198.5 498.10,204.4 498.17,208.7 498.24,202.6 498.31,198.8 498.39,199.4 498.46,195.5 498.53,202.6 498.60,206.9 498.67,204.0 498.74,205.1 498.81,204.8 498.89,211.0 498.96,197.8 499.03,202.0 499.10,204.8 499.17,207.6 499.24,190.4 499.31,198.6 499.39,200.2 499.46,196.0 499.53,205.6 499.60,202.5 499.67,199.4 499.74,193.2 499.81,194.8 499.89,196.5 499.96,203.8 500.03,195.4 500.10,191.2 500.17,194.3 500.24,198.6 500.31,209.9 500.39,211.1 500.46,199.2 500.53,206.3 500.60,208.6 500.67,208.0 500.74,201.1 500.81,195.2 500.89,199.2 500.96,192.4 501.03,202.9 501.10,205.6 501.17,192.3 501.24,201.5 501.31,203.2 501.39,208.0 501.46,208.6 501.53,205.8 501.60,198.4 501.67,200.0 501.74,207.8 501.81,198.9 501.89,201.7 501.96,209.6 502.03,202.5 502.10,195.1 502.17,200.5 502.24,205.1 502.31,201.0 502.39,207.7 502.46,208.3 502.53,198.8 502.60,199.5 502.67,201.5 502.74,196.1 502.81,203.9 502.89,201.2 502.96,206.0 503.03,199.2 503.10,197.8 503.17,211.2 503.24,197.8 503.31,199.3 503.39,198.6 503.46,200.7 503.53,197.7 503.60,202.0 503.67,198.8 503.74,200.2 503.81,204.0 503.89,205.7 503.96,204.6 504.03,198.7 504.10,204.3 504.17,201.7 504.24,201.8 504.31,193.9 504.39,205.7 504.46,201.7 504.53,210.7 504.60,205.5 504.67,197.0 504.74,195.8 504.81,208.1 504.89,198.2 504.96,205.8 505.03,201.0 505.10,211.8 505.17,202.9 505.24,209.9 505.31,209.1 505.39,200.3 505.46,201.0 505.53,209.8 505.60,202.7 505.67,198.5 505.74,208.5 505.81,211.9 505.89,202.6 505.96,209.6 506.03,202.0 506.10,209.4 506.17,201.7 506.24,209.4 506.31,205.6 506.39,202.1 506.46,204.1 506.53,200.4 506.60,197.6 506.67,197.9 506.74,202.8 506.81,198.0 506.89,205.3 506.96,205.7 507.03,205.5 507.10,200.8 507.17,203.5 507.24,203.1 507.31,209.6 507.39,199.4 507.46,201.5 507.53,202.2 507.60,202.7 507.67,199.8 507.74,200.4 507.81,208.3 507.89,200.3 507.96,207.8 508.03,212.2 508.10,209.6 508.17,194.8 508.24,207.2 508.31,205.8 508.39,206.1 508.46,195.7 508.53,207.2 508.60,198.3 508.67,209.8 508.74,208.7 508.81,212.3 508.89,201.8 508.96,196.3 509.03,208.6 509.10,207.8 509.17,201.8 509.24,210.1 509.31,207.0 509.39,197.5 509.46,202.0 509.53,201.6 509.60,203.2 509.67,204.6 509.74,200.4 509.81,202.8 509.89,206.6 509.96,203.4 510.03,202.5 510.10,202.4 510.17,203.3 510.24,194.7 510.31,204.6 510.39,199.0 510.46,204.4 510.53,196.9 510.60,208.3 510.67,205.0 510.74,197.5 510.81,205.1 510.89,200.4 510.96,212.5 511.03,206.3 511.10,200.2 511.17,205.1 511.24,203.9 511.31,209.7 511.39,205.8 511.46,206.5 511.53,198.8 511.60,207.9 511.67,212.8 511.74,207.2 511.81,204.0 511.89,205.0 511.96,199.7 512.03,205.1 512.10,199.1 512.17,204.5 512.24,202.4 512.31,200.4 512.39,207.0 512.46,197.3 512.53,204.1 512.60,198.1 512.67,212.9 512.74,212.9 512.81,208.3 512.89,213.0 512.96,207.2 513.03,207.0 513.10,202.5 513.17,200.3 513.24,205.1 513.31,202.0 513.39,202.5 513.46,207.9 513.53,203.9 513.60,197.3 513.67,203.5 513.74,201.0 513.81,203.2 513.89,199.5 513.96,210.2 514.03,213.1 514.10,199.5 514.17,207.6 514.24,207.4 514.31,199.7 514.39,205.1 514.46,211.2 514.53,208.6 514.60,212.2 514.67,199.3 514.74,201.3 514.81,206.1 514.89,206.4 514.96,204.9 515.03,203.0 515.10,202.9 515.17,202.0 515.24,206.9 515.31,194.9 515.39,212.2 515.46,202.4 515.53,198.2 515.60,207.4 515.67,198.4 515.74,206.7 515.81,203.0 515.89,207.6 515.96,208.5 516.03,210.9 516.10,202.6 516.17,203.6 516.24,204.9 516.31,198.5 516.39,207.7 516.46,205.6 516.53,198.8 516.60,210.5 516.67,211.3 516.74,199.0 516.81,207.7 516.89,210.8 516.96,208.9 517.03,200.6 517.10,198.7 517.17,204.6 517.24,202.8 517.31,205.1 517.39,204.7 517.46,207.5 517.53,202.6 517.60,204.4 517.67,213.7 517.74,204.6 517.81,208.6 517.89,206.5 517.96,206.2 518.03,201.1 518.10,207.6 518.17,205.0 518.24,209.0 518.31,213.8 518.39,206.1 518.46,208.8 518.53,200.7 518.60,205.9 518.67,212.4 518.74,205.1 518.81,202.5 518.89,206.3 518.96,204.6 519.03,204.3 519.10,203.7 519.17,213.9 519.24,201.5 519.31,203.6 519.39,202.9 519.46,211.1 519.53,204.2 519.60,211.4 519.67,206.3 519.74,205.4 519.81,199.0 519.89,211.0 519.96,208.0 520.03,207.4 520.10,205.1 520.17,203.7 520.24,199.9 520.31,209.9 520.39,206.8 520.46,204.0 520.53,202.8 520.60,206.2 520.67,205.3 520.74,213.0 520.81,209.2 520.89,203.0 520.96,200.8 521.03,204.7 521.10,201.7 521.17,206.1 521.24,207.6 521.31,208.6 521.39,207.6 521.46,204.9 521.53,208.5 521.60,201.8 521.67,205.5 521.74,209.4 521.81,207.1 521.89,200.2 521.96,200.7 522.03,198.7 522.10,213.9 522.17,199.0 522.24,205.3 522.31,214.1 522.39,210.7 522.46,211.8 522.53,203.7 522.60,209.2 522.67,214.2 522.74,205.8 522.81,207.8 522.89,204.6 522.96,205.9 523.03,207.7 523.10,212.2 523.17,202.1 523.24,199.7 523.31,206.2 523.39,207.0 523.46,212.3 523.53,209.2 523.60,203.3 523.67,208.6 523.74,211.0 523.81,207.4 523.89,204.6 523.96,209.1 524.03,204.6 524.10,197.9 524.17,212.0 524.24,200.5 524.31,204.7 524.39,204.8 524.46,204.7 524.53,204.9 524.60,199.9 524.67,208.5 524.74,206.3 524.81,206.4 524.89,210.9 524.96,211.0 525.03,212.1 525.10,214.3 525.17,208.2 525.24,199.5 525.31,207.2 525.39,206.3 525.46,206.6 525.53,203.7 525.60,202.4 525.67,209.8 525.74,210.5 525.81,201.4 525.89,208.7 525.96,205.6 526.03,204.7 526.10,209.3 526.17,206.1 526.24,204.0 526.31,206.6 526.39,197.7 526.46,203.8 526.53,204.5 526.60,200.3 526.67,207.2 526.74,207.6 526.81,203.8 526.89,205.7 526.96,209.3 527.03,211.0 527.10,203.1 527.17,207.9 527.24,210.9 527.31,206.3 527.39,203.1 527.46,203.1 527.53,205.0 527.60,202.0 527.67,214.6 527.74,204.0 527.81,208.1 527.89,207.2 527.96,209.2 528.03,204.8 528.10,200.9 528.17,213.5 528.24,206.1 528.31,207.0 528.39,207.4 528.46,211.9 528.53,209.8 528.60,211.6 528.67,210.1 528.74,207.2 528.81,207.6 528.89,203.4 528.96,198.3 529.03,205.6 529.10,202.0 529.17,214.7 529.24,213.3 529.31,211.6 529.39,204.3 529.46,214.7 529.53,199.4 529.60,201.5 529.67,203.3 529.74,202.6 529.81,207.2 529.89,207.5 529.96,214.8 530.03,210.9 530.10,211.9 530.17,208.5 530.24,206.1 530.31,203.8 530.39,200.3 530.46,203.1 530.53,205.1 530.60,210.0 530.67,199.6 530.74,201.0 530.81,207.7 530.89,202.4 530.96,208.2 531.03,205.1 531.10,203.7 531.17,201.2 531.24,206.4 531.31,203.8 531.39,204.3 531.46,204.2 531.53,207.7 531.60,207.5 531.67,199.7 531.74,206.2 531.81,208.6 531.89,211.3 531.96,210.2 532.03,207.8 532.10,202.1 532.17,203.7 532.24,210.8 532.31,204.0 532.39,211.3 532.46,212.3 532.53,202.5 532.60,208.8 532.67,206.5 532.74,215.0 532.81,210.5 532.89,204.9 532.96,208.7 533.03,203.2 533.10,206.4 533.17,207.9 533.24,207.7 533.31,208.4 533.39,203.3 533.46,199.4 533.53,205.6 533.60,203.4 533.67,204.2 533.74,215.0 533.81,212.0 533.89,206.4 533.96,201.2 534.03,201.8 534.10,208.7 534.17,211.6 534.24,206.0 534.31,207.8 534.39,208.3 534.46,211.6 534.53,199.5 534.60,207.9 534.67,208.9 534.74,211.2 534.81,208.9 534.89,202.7 534.96,204.9 535.03,201.0 535.10,208.1 535.17,208.1 535.24,209.4 535.31,203.3 535.39,202.6 535.46,213.6 535.53,208.1 535.60,214.5 535.67,209.2 535.74,201.4 535.81,210.7 535.89,212.5 535.96,205.6 536.03,199.5 536.10,210.1 536.17,206.9 536.24,208.6 536.31,198.8 536.39,209.3 536.46,198.9 536.53,203.9 536.60,211.1 536.67,200.0 536.74,199.9 536.81,205.7 536.89,214.2 536.96,214.1 537.03,205.0 537.10,211.6 537.17,209.9 537.24,208.6 537.31,209.0 537.39,204.6 537.46,210.8 537.53,211.9 537.60,215.3 537.67,211.3 537.74,199.1 537.81,202.7 537.89,209.0 537.96,207.9 538.03,200.1 538.10,207.1 538.17,206.2 538.24,207.5 538.31,207.2 538.39,211.4 538.46,213.6 538.53,210.4 538.60,203.2 538.67,204.2 538.74,205.0 538.81,207.5 538.89,206.0 538.96,206.3 539.03,204.0 539.10,211.6 539.17,211.2 539.24,211.6 539.31,207.5 539.39,209.6 539.46,204.1 539.53,203.8 539.60,205.6 539.67,210.2 539.74,207.2 539.81,203.3 539.89,208.2 539.96,209.6 540.03,208.5 540.10,205.2 540.17,208.1 540.24,206.2 540.31,206.6 540.39,207.6 540.46,210.9 540.53,215.2 540.60,214.2 540.67,210.5 540.74,206.4 540.81,206.7 540.89,206.9 540.96,212.6 541.03,199.6 541.10,209.0 541.17,200.0 541.24,208.0 541.31,213.3 541.39,204.4 541.46,199.6 541.53,213.2 541.60,214.1 541.67,210.0 541.74,213.1 541.81,204.9 541.89,212.7 541.96,214.9 542.03,210.6 542.10,209.2 542.17,213.2 542.24,212.6 542.31,205.1 542.39,213.5 542.46,211.1 542.53,208.7 542.60,213.3 542.67,211.8 542.74,211.1 542.81,206.1 542.89,211.5 542.96,203.7 543.03,207.6 543.10,201.4 543.17,201.3 543.24,209.9 543.31,207.8 543.39,208.5 543.46,210.5 543.53,209.6 543.60,204.6 543.67,208.5 543.74,207.9 543.81,206.1 543.89,207.7 543.96,206.7 544.03,205.6 544.10,206.9 544.17,209.2 544.24,215.8 544.31,205.0 544.39,210.3 544.46,202.4 544.53,214.6 544.60,206.9 544.67,208.8 544.74,213.3 544.81,212.2 544.89,202.3 544.96,210.5 545.03,207.4 545.10,210.7 545.17,208.9 545.24,211.2 545.31,209.5 545.39,207.7 545.46,213.0 545.53,202.2 545.60,206.6 545.67,204.5 545.74,207.8 545.81,206.6 545.89,207.7 545.96,206.4 546.03,206.5 546.10,201.8 546.17,208.2 546.24,209.6 546.31,206.0 546.39,205.8 546.46,205.8 546.53,215.1 546.60,209.1 546.67,209.9 546.74,207.2 546.81,206.4 546.89,204.9 546.96,214.5 547.03,201.7 547.10,209.6 547.17,208.3 547.24,207.4 547.31,202.2 547.39,203.5 547.46,212.3 547.53,205.7 547.60,211.9 547.67,211.1 547.74,210.8 547.81,211.5 547.89,203.7 547.96,206.6 548.03,211.2 548.10,203.5 548.17,215.1 548.24,206.3 548.31,208.2 548.39,204.4 548.46,210.0 548.53,205.6 548.60,207.6 548.67,204.0 548.74,213.3 548.81,202.1 548.89,210.3 548.96,209.5 549.03,210.3 549.10,204.5 549.17,212.7 549.24,212.4 549.31,209.2 549.39,209.8 549.46,208.0 549.53,211.1 549.60,205.3 549.67,210.8 549.74,210.2 549.81,203.0 549.89,200.3 549.96,208.1 550.03,208.0 550.10,213.5 550.17,208.9 550.24,206.7 550.31,203.2 550.39,208.3 550.46,206.3 550.53,204.3 550.60,208.2 550.67,212.9 550.74,209.0 550.81,204.5 550.89,210.0 550.96,204.3 551.03,202.4 551.10,210.6 551.17,206.5 551.24,213.1 551.31,209.9 551.39,205.5 551.46,209.6 551.53,213.9 551.60,208.0 551.67,204.5 551.74,206.1 551.81,205.5 551.89,204.1 551.96,203.6 552.03,210.4 552.10,213.2 552.17,207.3 552.24,211.9 552.31,212.4 552.39,215.4 552.46,208.0 552.53,207.4 552.60,210.5 552.67,209.2 552.74,210.0 552.81,213.9 552.89,207.1 552.96,209.7 553.03,204.9 553.10,208.2 553.17,206.2 553.24,205.8 553.31,208.0 553.39,207.1 553.46,210.3 553.53,212.0 553.60,203.0 553.67,212.8 553.74,200.6 553.81,209.9 553.89,211.7 553.96,206.3 554.03,208.0 554.10,205.8 554.17,212.4 554.24,200.6 554.31,205.1 554.39,201.3 554.46,209.7 554.53,214.1 554.60,213.6 554.67,211.6 554.74,209.9 554.81,205.9 554.89,213.8 554.96,211.4 555.03,205.6 555.10,203.9 555.17,206.5 555.24,213.2 555.31,213.9 555.39,215.4 555.46,205.9 555.53,207.6 555.60,214.5 555.67,209.9 555.74,212.0 555.81,203.8 555.89,207.6 555.96,209.0 556.03,207.6 556.10,207.4 556.17,202.6 556.24,215.5 556.31,209.6 556.39,203.3 556.46,213.3 556.53,209.3 556.60,211.9 556.67,208.3 556.74,206.0 556.81,206.1 556.89,210.5 556.96,212.2 557.03,211.1 557.10,211.7 557.17,213.9 557.24,210.3 557.31,213.2 557.39,213.6 557.46,210.4 557.53,208.9 557.60,207.5 557.67,204.5 557.74,203.1 557.81,214.4 557.89,209.2 557.96,207.1 558.03,215.5 558.10,213.1 558.17,209.6 558.24,213.3 558.31,208.6 558.39,210.8 558.46,216.5 558.53,213.6 558.60,208.3 558.67,212.1 558.74,214.1 558.81,209.0 558.89,207.8 558.96,216.7 559.03,208.3 559.10,204.3 559.17,210.1 559.24,216.7 559.31,212.0 559.39,213.4 559.46,201.1 559.53,207.5 559.60,214.4 559.67,208.1 559.74,214.9 559.81,211.6 559.89,211.3 559.96,216.4 560.03,207.8 560.10,208.0 560.17,210.2 560.24,210.7 560.31,203.2 560.39,214.7 560.46,210.8 560.53,209.2 560.60,212.3 560.67,208.3 560.74,214.6 560.81,210.1 560.89,212.7 560.96,206.4 561.03,208.8 561.10,211.4 561.17,206.2 561.24,207.3 561.31,209.7 561.39,214.3 561.46,212.9 561.53,213.5 561.60,211.1 561.67,213.4 561.74,216.0 561.81,210.6 561.89,211.6 561.96,212.2 562.03,202.1 562.10,209.5 562.17,211.6 562.24,212.9 562.31,208.7 562.39,213.7 562.46,207.4 562.53,209.2 562.60,216.5 562.67,204.6 562.74,209.6 562.81,209.3 562.89,209.6 562.96,207.8 563.03,212.4 563.10,205.7 563.17,204.7 563.24,211.8 563.31,205.2 563.39,211.3 563.46,210.0 563.53,207.2 563.60,208.5 563.67,209.5 563.74,211.6 563.81,207.4 563.89,209.0 563.96,204.2 564.03,208.8 564.10,202.3 564.17,209.6 564.24,208.0 564.31,217.0 564.39,214.8 564.46,209.2 564.53,213.5 564.60,210.9 564.67,205.3 564.74,201.4 564.81,214.1 564.89,211.3 564.96,202.1 565.03,212.3 565.10,213.3 565.17,207.1 565.24,212.9 565.31,203.0 565.39,208.9 565.46,209.9 565.53,212.8 565.60,211.3 565.67,210.6 565.74,211.9 565.81,207.2 565.89,215.6 565.96,208.4 566.03,212.9 566.10,209.8 566.17,208.8 566.24,212.1 566.31,211.5 566.39,215.0 566.46,214.0 566.53,207.6 566.60,211.8 566.67,210.2 566.74,206.7 566.81,205.5 566.89,210.8 566.96,207.7 567.03,204.4 567.10,209.5 567.17,210.7 567.24,210.2 567.31,205.1 567.39,207.6 567.46,215.2 567.53,206.8 567.60,208.6 567.67,217.2 567.74,211.2 567.81,207.9 567.89,202.3 567.96,211.1 568.03,204.4 568.10,209.8 568.17,206.5 568.24,203.3 568.31,216.3 568.39,209.4 568.46,213.4 568.53,212.7 568.60,207.0 568.67,210.2 568.74,208.5 568.81,213.6 568.89,211.5 568.96,208.5 569.03,216.3 569.10,211.9 569.17,211.7 569.24,206.8 569.31,211.5 569.39,204.2 569.46,211.7 569.53,206.2 569.60,210.6 569.67,208.8 569.74,210.8 569.81,211.3 569.89,209.7 569.96,209.7 570.03,204.1 570.10,202.5 570.17,214.8 570.24,212.2 570.31,204.2 570.39,217.3 570.46,207.1 570.53,211.9 570.60,211.6 570.67,210.4 570.74,212.3 570.81,204.6 570.89,209.8 570.96,209.0 571.03,210.3 571.10,208.9 571.17,207.5 571.24,207.1 571.31,213.4 571.39,206.7 571.46,211.4 571.53,211.4 571.60,209.6 571.67,211.6 571.74,212.1 571.81,207.9 571.89,211.3 571.96,217.4 572.03,205.9 572.10,208.8 572.17,207.0 572.24,217.4 572.31,204.6 572.39,210.1 572.46,213.7 572.53,206.7 572.60,209.5 572.67,207.3 572.74,204.9 572.81,209.8 572.89,212.0 572.96,208.5 573.03,210.7 573.10,212.7 573.17,214.7 573.24,205.3 573.31,212.5 573.39,207.7 573.46,202.8 573.53,207.1 573.60,212.6 573.67,211.3 573.74,205.9 573.81,216.4 573.89,211.7 573.96,209.9 574.03,208.0 574.10,211.8 574.17,208.6 574.24,214.5 574.31,211.4 574.39,212.5 574.46,209.0 574.53,204.4 574.60,212.2 574.67,206.3 574.74,209.8 574.81,210.1 574.89,207.2 574.96,213.6 575.03,204.7 575.10,216.0 575.17,207.9 575.24,213.9 575.31,215.2 575.39,206.9 575.46,207.4 575.53,213.9 575.60,211.0 575.67,210.6 575.74,203.2 575.81,203.9 575.89,212.3 575.96,215.8 576.03,207.5 576.10,206.9 576.17,211.1 576.24,212.1 576.31,212.4 576.39,208.6 576.46,202.8 576.53,215.9 576.60,208.4 576.67,215.1 576.74,202.6 576.81,211.7 576.89,208.4 576.96,206.1 577.03,214.1 577.10,215.3 577.17,208.1 577.24,212.8 577.31,206.2 577.39,208.0 577.46,209.4 577.53,209.0 577.60,212.8 577.67,205.7 577.74,214.1 577.81,214.1 577.89,209.5 577.96,205.8 578.03,202.3 578.10,210.1 578.17,207.6 578.24,210.8 578.31,206.3 578.39,210.4 578.46,210.2 578.53,210.5 578.60,211.5 578.67,211.5 578.74,214.1 578.81,207.4 578.89,213.2 578.96,211.1 579.03,208.8 579.10,206.6 579.17,216.0 579.24,211.4 579.31,208.5 579.39,210.7 579.46,210.5 579.53,208.5 579.60,205.2 579.67,211.1 579.74,209.9 579.81,209.4 579.89,214.3 579.96,205.5 580.03,206.9 580.10,211.1 580.17,213.7 580.24,212.9 580.31,213.3 580.39,202.4 580.46,212.4 580.53,212.1 580.60,213.2 580.67,207.9 580.74,212.5 580.81,214.4 580.89,216.7 580.96,211.5 581.03,205.5 581.10,210.8 581.17,213.0 581.24,212.5 581.31,217.9 581.39,209.8 581.46,206.7 581.53,208.2 581.60,213.1 581.67,207.6 581.74,206.7 581.81,207.4 581.89,215.2 581.96,211.5 582.03,209.4 582.10,213.9 582.17,213.3 582.24,206.9 582.31,213.8 582.39,211.6 582.46,202.8 582.53,206.2 582.60,211.7 582.67,212.5 582.74,209.6 582.81,206.9 582.89,211.6 582.96,203.7 583.03,212.8 583.10,210.1 583.17,210.6 583.24,208.2 583.31,213.9 583.39,202.6 583.46,207.4 583.53,212.9 583.60,208.1 583.67,216.3 583.74,212.4 583.81,207.9 583.89,215.0 583.96,210.4 584.03,213.0 584.10,208.5 584.17,208.5 584.24,213.5 584.31,211.2 584.39,208.0 584.46,207.5 584.53,213.3 584.60,217.6 584.67,207.7 584.74,213.5 584.81,202.7 584.89,205.6 584.96,213.5 585.03,217.0 585.10,211.2 585.17,213.0 585.24,211.9 585.31,214.8 585.39,206.8 585.46,213.4 585.53,209.3 585.60,209.7 585.67,211.0 585.74,210.2 585.81,208.1 585.89,210.0 585.96,207.4 586.03,216.6 586.10,213.7 586.17,209.4 586.24,217.0 586.31,215.9 586.39,212.9 586.46,209.0 586.53,212.0 586.60,213.2 586.67,216.3 586.74,210.4 586.81,208.9 586.89,218.1 586.96,216.3 587.03,212.2 587.10,207.6 587.17,212.9 587.24,215.3 587.31,213.9 587.39,214.2 587.46,211.2 587.53,215.4 587.60,208.8 587.67,209.4 587.74,209.2 587.81,208.6 587.89,218.2 587.96,204.7 588.03,212.0 588.10,207.4 588.17,206.4 588.24,211.5 588.31,205.2 588.39,210.8 588.46,218.2 588.53,210.7 588.60,212.8 588.67,207.9 588.74,212.9 588.81,205.4 588.89,211.8 588.96,210.6 589.03,218.2 589.10,210.8 589.17,209.7 589.24,208.9 589.31,206.5 589.39,214.0 589.46,216.6 589.53,209.6 589.60,213.8 589.67,209.7 589.74,212.6 589.81,212.8 589.89,205.6 589.96,208.1 590.03,214.6 590.10,203.8 590.17,211.1 590.24,209.8 590.31,207.5 590.39,211.3 590.46,212.2 590.53,213.1 590.60,203.0 590.67,217.5 590.74,209.3 590.81,215.1 590.89,210.6 590.96,208.9 591.03,210.8 591.10,218.3 591.17,217.1 591.24,209.8 591.31,212.0 591.39,215.4 591.46,213.3 591.53,211.4 591.60,210.4 591.67,207.0 591.74,214.0 591.81,215.3 591.89,218.4 591.96,209.0 592.03,213.6 592.10,211.0 592.17,215.9 592.24,210.8 592.31,208.7 592.39,204.7 592.46,213.9 592.53,211.8 592.60,215.4 592.67,209.0 592.74,218.4 592.81,208.5 592.89,213.1 592.96,212.7 593.03,215.4 593.10,210.5 593.17,207.7 593.24,207.4 593.31,214.3 593.39,211.6 593.46,212.5 593.53,208.1 593.60,211.7 593.67,212.0 593.74,213.5 593.81,205.6 593.89,208.3 593.96,217.8 594.03,209.7 594.10,210.9 594.17,209.7 594.24,205.5 594.31,207.1 594.39,212.6 594.46,208.7 594.53,218.5 594.60,205.5 594.67,203.8 594.74,209.7 594.81,206.6 594.89,216.5 594.96,209.6 595.03,213.2 595.10,205.9 595.17,213.8 595.24,213.7 595.31,216.0 595.39,212.1 595.46,213.2 595.53,211.9 595.60,214.8 595.67,209.7 595.74,213.3 595.81,209.1 595.89,213.9 595.96,210.2 596.03,208.8 596.10,208.7 596.17,216.9 596.24,205.3 596.31,205.6 596.39,213.7 596.46,207.5 596.53,209.5 596.60,209.4 596.67,218.6 596.74,208.7 596.81,208.6 596.89,209.8 596.96,212.2 597.03,213.2 597.10,205.7 597.17,213.0 597.24,218.6 597.31,204.5 597.39,213.5 597.46,214.3 597.53,211.9 597.60,210.6 597.67,203.4 597.74,215.9 597.81,210.1 597.89,210.6 597.96,216.0 598.03,203.4 598.10,211.1 598.17,213.7 598.24,214.1 598.31,213.7 598.39,218.6 598.46,212.5 598.53,215.3 598.60,214.3 598.67,205.8 598.74,208.5 598.81,218.7 598.89,210.4 598.96,211.2 599.03,206.4 599.10,210.1 599.17,206.5 599.24,209.1 599.31,213.6 599.39,208.3 599.46,209.1 599.53,216.5 599.60,213.3 599.67,213.4 599.74,215.3 599.81,209.4 599.89,210.0 599.96,203.7 600.03,214.3 600.10,210.7 600.17,211.5 600.24,207.4 600.31,213.9 600.39,213.9 600.46,212.2 600.53,205.5 600.60,208.3 600.67,211.4 600.74,208.4 600.81,213.0 600.89,215.3 600.96,208.7 601.03,210.9 601.10,208.9 601.17,215.5 601.24,214.9 601.31,218.7 601.39,211.6 601.46,208.0 601.53,213.1 601.60,210.7 601.67,212.3 601.74,216.3 601.81,210.5 601.89,214.3 601.96,203.6 602.03,215.6 602.10,212.1 602.17,210.7 602.24,209.7 602.31,217.0 602.39,209.7 602.46,216.4 602.53,209.7 602.60,211.8 602.67,213.0 602.74,218.8 602.81,212.6 602.89,212.5 602.96,211.4 603.03,210.5 603.10,209.4 603.17,218.5 603.24,217.2 603.31,209.1 603.39,212.3 603.46,207.2 603.53,215.2 603.60,214.3 603.67,212.1 603.74,208.7 603.81,214.6 603.89,214.0 603.96,211.0 604.03,214.5 604.10,206.6 604.17,209.5 604.24,208.1 604.31,212.2 604.39,218.0 604.46,211.9 604.53,216.0 604.60,211.6 604.67,210.2 604.74,215.6 604.81,213.8 604.89,217.1 604.96,215.4 605.03,208.7 605.10,203.8 605.17,212.3 605.24,207.3 605.31,206.4 605.39,206.2 605.46,209.3 605.53,211.0 605.60,211.8 605.67,218.9 605.74,207.2 605.81,211.7 605.89,207.1 605.96,208.0 606.03,212.0 606.10,213.3 606.17,206.9 606.24,216.1 606.31,208.3 606.39,215.4 606.46,211.6 606.53,215.2 606.60,213.9 606.67,210.7 606.74,213.6 606.81,206.7 606.89,206.9 606.96,210.5 607.03,217.0 607.10,209.0 607.17,209.5 607.24,218.1 607.31,212.0 607.39,211.8 607.46,207.9 607.53,212.0 607.60,214.0 607.67,211.6 607.74,214.7 607.81,213.1 607.89,215.8 607.96,214.9 608.03,211.3 608.10,215.1 608.17,218.6 608.24,213.0 608.31,207.2 608.39,212.6 608.46,211.1 608.53,219.0 608.60,214.7 608.67,207.7 608.74,211.1 608.81,217.3 608.89,207.5 608.96,210.0 609.03,211.9 609.10,211.3 609.17,209.6 609.24,212.3 609.31,206.5 609.39,209.7 609.46,209.6 609.53,210.7 609.60,210.7 609.67,211.8 609.74,210.5 609.81,210.3 609.89,213.2 609.96,215.2 610.03,215.5 610.10,207.5 610.17,212.8 610.24,214.6 610.31,210.8 610.39,213.6 610.46,211.0 610.53,213.3 610.60,206.1 610.67,213.6 610.74,210.0 610.81,209.1 610.89,210.7 610.96,215.6 611.03,215.4 611.10,212.8 611.17,215.1 611.24,210.3 611.31,207.2 611.39,204.9 611.46,211.7 611.53,211.3 611.60,212.0 611.67,212.1 611.74,216.4 611.81,208.4 611.89,209.0 611.96,219.1 612.03,214.8 612.10,210.8 612.17,204.2 612.24,208.7 612.31,210.5 612.39,211.6 612.46,212.6 612.53,211.0 612.60,216.2 612.67,207.4 612.74,210.8 612.81,209.3 612.89,214.8 612.96,212.6 613.03,214.8 613.10,212.2 613.17,219.1 613.24,214.6 613.31,209.1 613.39,211.9 613.46,210.4 613.53,214.8 613.60,215.6 613.67,213.4 613.74,211.3 613.81,209.4 613.89,218.0 613.96,216.1 614.03,204.2 614.10,212.2 614.17,208.8 614.24,210.6 614.31,218.3 614.39,207.8 614.46,208.1 614.53,219.2 614.60,210.2 614.67,211.2 614.74,216.3 614.81,210.1 614.89,212.2 614.96,213.0 615.03,217.3 615.10,206.0 615.17,209.0 615.24,211.6 615.31,215.5 615.39,209.7 615.46,213.8 615.53,210.2 615.60,210.6 615.67,216.9 615.74,211.2 615.81,219.2 615.89,213.5 615.96,216.3 616.03,214.9 616.10,206.3 616.17,206.4 616.24,214.0 616.31,208.0 616.39,210.1 616.46,210.9 616.53,208.7 616.60,216.6 616.67,215.1 616.74,212.8 616.81,214.3 616.89,208.8 616.96,215.4 617.03,209.0 617.10,218.0 617.17,209.7 617.24,210.1 617.31,216.5 617.39,214.6 617.46,208.6 617.53,214.5 617.60,212.2 617.67,212.3 617.74,214.5 617.81,214.5 617.89,216.0 617.96,214.0 618.03,213.4 618.10,211.9 618.17,217.8 618.24,209.3 618.31,219.3 618.39,219.3 618.46,219.3 618.53,211.7 618.60,219.3 618.67,216.6 618.74,216.3 618.81,219.3 618.89,213.0 618.96,214.4 619.03,207.6 619.10,204.4 619.17,213.4 619.24,213.9 619.31,214.9 619.39,213.4 619.46,204.9 619.53,213.7 619.60,216.5 619.67,218.2 619.74,208.8 619.81,209.0 619.89,209.7 619.96,209.9 620.03,206.3 620.10,209.8 620.17,218.2 620.24,208.4 620.31,205.4 620.39,211.3 620.46,210.4 620.53,214.9 620.60,209.6 620.67,211.6 620.74,209.2 620.81,208.7 620.89,213.7 620.96,212.8 621.03,212.1 621.10,214.3 621.17,209.3 621.24,212.4 621.31,213.1 621.39,216.7 621.46,205.3 621.53,211.0 621.60,214.0 621.67,210.2 621.74,212.7 621.81,214.9 621.89,214.1 621.96,205.9 622.03,207.9 622.10,204.6 622.17,214.8 622.24,213.1 622.31,217.4 622.39,212.5 622.46,208.1 622.53,216.4 622.60,207.4 622.67,212.4 622.74,211.6 622.81,215.3 622.89,215.8 622.96,210.8 623.03,209.6 623.10,212.2 623.17,210.2 623.24,215.9 623.31,213.8 623.39,217.6 623.46,219.5 623.53,209.2 623.60,210.2 623.67,214.2 623.74,213.9 623.81,211.1 623.89,206.0 623.96,219.5 624.03,212.7 624.10,208.1 624.17,204.6 624.24,217.6 624.31,213.7 624.39,212.4 624.46,208.6 624.53,212.0 624.60,211.0 624.67,204.7 624.74,219.5 624.81,214.1 624.89,211.2 624.96,208.8 625.03,210.2 625.10,219.5 625.17,213.9 625.24,207.5 625.31,215.8 625.39,214.3 625.46,214.4 625.53,212.0 625.60,211.8 625.67,213.3 625.74,211.7 625.81,207.2 625.89,208.7 625.96,212.5 626.03,206.5 626.10,212.0 626.17,211.3 626.24,215.2 626.31,213.1 626.39,211.4 626.46,211.4 626.53,214.1 626.60,216.0 626.67,208.5 626.74,206.8 626.81,209.7 626.89,204.8 626.96,209.6 627.03,215.6 627.10,216.2 627.17,218.2 627.24,212.7 627.31,213.1 627.39,210.3 627.46,210.6 627.53,213.6 627.60,215.9 627.67,214.1 627.74,204.9 627.81,214.4 627.89,212.5 627.96,210.3 628.03,213.0 628.10,215.9 628.17,213.0 628.24,209.8 628.31,219.6 628.39,210.2 628.46,214.2 628.53,217.2 628.60,209.3 628.67,214.6 628.74,209.4 628.81,211.5 628.89,209.7 628.96,219.1 629.03,207.4 629.10,214.5 629.17,212.7 629.24,205.2 629.31,219.0 629.39,210.4 629.46,211.6 629.53,213.3 629.60,209.2 629.67,209.7 629.74,212.4 629.81,209.3 629.89,212.9 629.96,217.3 630.03,208.8 630.10,206.7 630.17,212.1 630.24,214.1 630.31,215.1 630.39,208.5 630.46,204.9 630.53,215.8 630.60,215.2 630.67,218.2 630.74,209.0 630.81,214.7 630.89,216.3 630.96,205.8 631.03,216.5 631.10,217.9 631.17,214.7 631.24,214.6 631.31,215.3 631.39,211.6 631.46,207.3 631.53,209.2 631.60,211.9 631.67,209.5 631.74,216.4 631.81,211.1 631.89,212.2 631.96,206.1 632.03,214.1 632.10,210.0 632.17,218.2 632.24,206.2 632.31,213.8 632.39,211.1 632.46,211.3 632.53,218.9 632.60,216.2 632.67,209.5 632.74,217.8 632.81,210.2 632.89,215.6 632.96,206.2 633.03,211.5 633.10,211.6 633.17,211.4 633.24,206.8 633.31,205.7 633.39,212.6 633.46,214.9 633.53,212.8 633.60,211.4 633.67,207.1 633.74,211.7 633.81,210.6 633.89,210.0 633.96,213.3 634.03,213.3 634.10,214.2 634.17,211.7 634.24,209.6 634.31,212.0 634.39,211.6 634.46,206.7 634.53,211.4 634.60,206.6 634.67,205.4 634.74,209.7 634.81,210.3 634.89,215.3 634.96,211.6 635.03,214.7 635.10,218.0 635.17,213.2 635.24,214.1 635.31,210.2 635.39,215.7 635.46,212.9 635.53,213.0 635.60,208.6 635.67,209.3 635.74,210.3 635.81,213.1 635.89,216.7 635.96,207.2 636.03,211.4 636.10,211.6 636.17,219.8 636.24,212.0 636.31,210.8 636.39,215.5 636.46,208.7 636.53,214.7 636.60,206.6 636.67,219.8 636.74,212.6 636.81,211.2 636.89,207.9 636.96,212.2 637.03,213.1 637.10,210.1 637.17,217.1 637.24,211.6 637.31,213.1 637.39,213.8 637.46,217.8 637.53,211.4 637.60,213.0 637.67,213.9 637.74,215.0 637.81,206.1 637.89,217.0 637.96,212.4 638.03,210.2 638.10,212.7 638.17,205.8 638.24,210.0 638.31,213.5 638.39,217.8 638.46,212.5 638.53,214.3 638.60,211.8 638.67,216.0 638.74,211.4 638.81,214.5 638.89,211.6 638.96,209.3 639.03,209.2 639.10,210.5 639.17,217.1 639.24,219.9 639.31,212.1 639.39,210.2 639.46,214.8 639.53,214.7 639.60,211.0 639.67,219.9 639.74,216.1 639.81,216.4 639.89,213.2 639.96,213.4 640.03,216.5 640.10,207.9 640.17,210.0 640.24,213.3 640.31,207.6 640.39,219.0 640.46,210.7 640.53,211.4 640.60,214.2 640.67,218.5 640.74,212.8 640.81,210.2 640.89,209.6 640.96,213.8 641.03,210.9 641.10,219.9 641.17,217.6" fill="none" stroke="#2236f6" stroke-width="1.3" stroke-linejoin="bevel"/>
<path d="M439,57 L440.7,57 L441.2,78 L441.2,96 L439.9,100 L439.2,100 L437.8,96 L438.3,78 Z" fill="#2236f6"/>
<rect x="378.6" y="42.4" width="262.6" height="192.9" fill="none" stroke="#222" stroke-width="1.3"/>
<path d="M378.60,235.3 V232.80 M396.11,235.3 V231.00 M413.61,235.3 V232.80 M431.12,235.3 V231.00 M448.63,235.3 V232.80 M466.13,235.3 V231.00 M483.64,235.3 V232.80 M501.15,235.3 V231.00 M518.65,235.3 V232.80 M536.16,235.3 V231.00 M553.67,235.3 V232.80 M571.17,235.3 V231.00 M588.68,235.3 V232.80 M606.19,235.3 V231.00 M623.69,235.3 V232.80 M641.20,235.3 V231.00 M378.6,53.90 H382.90 M378.6,65.98 H381.10 M378.6,78.06 H382.90 M378.6,90.14 H381.10 M378.6,102.22 H382.90 M378.6,114.30 H381.10 M378.6,126.38 H382.90 M378.6,138.46 H381.10 M378.6,150.54 H382.90 M378.6,162.62 H381.10 M378.6,174.70 H382.90 M378.6,186.78 H381.10 M378.6,198.86 H382.90 M378.6,210.94 H381.10 M378.6,223.02 H382.90" stroke="#222" stroke-width="1.1"/>
<g font-family="Liberation Serif" font-weight="bold" font-size="11" fill="#111" text-anchor="middle">
<text x="396.1" y="248.3">10</text><text x="431.1" y="248.3">20</text><text x="466.1" y="248.3">30</text><text x="501.1" y="248.3">40</text><text x="536.2" y="248.3">50</text><text x="571.2" y="248.3">60</text><text x="606.2" y="248.3">70</text><text x="641.2" y="248.3">80</text>
</g>
<text x="503.8" y="268.8" font-family="Liberation Serif" font-weight="bold" font-size="12" fill="#111" text-anchor="middle">2θ (deg)</text>
<text transform="translate(360.1,142.2) rotate(-90)" font-family="Liberation Serif" font-weight="bold" font-size="12" fill="#111" text-anchor="middle">Intensity (a. u.)</text>
<!-- annotations -->
<g stroke="#111" stroke-width="1.3" fill="#111">
<path d="M440,57.4 L448,53.2" fill="none"/>
<path d="M451.5,51.8 L445.2,52.6 L447.3,56.4 Z" stroke="none"/>
<path d="M416,151.8 V141" fill="none"/><path d="M416,137.7 L414.4,143.3 L417.6,143.3 Z" stroke="none"/>
<path d="M451.9,152.5 V137" fill="none"/><path d="M451.9,133.8 L450.3,139.8 L453.5,139.8 Z" stroke="none"/>
<path d="M482.2,176.6 V166" fill="none"/><path d="M482.2,163 L480.6,168.6 L483.8,168.6 Z" stroke="none"/>
</g>
<g font-family="Liberation Serif" font-size="9.5" fill="#111">
<text x="453.6" y="53.7">22.5<tspan dx="2.5" dy="-5" font-size="6">o</tspan></text>
<text x="404.8" y="134.7">15.56<tspan dx="2" dy="-5" font-size="6">o</tspan></text>
<text x="448" y="130.8">25.88<tspan dx="2.5" dy="-5" font-size="6">o</tspan></text>
<text x="472.4" y="161.4">34.62<tspan dx="2.5" dy="-5" font-size="6">o</tspan></text>
</g>
</svg>
</body></html>
